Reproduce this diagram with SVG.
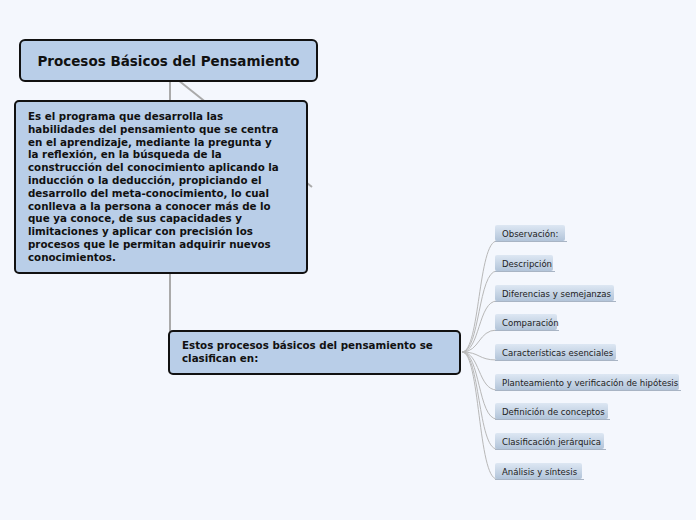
<svg xmlns="http://www.w3.org/2000/svg" width="696" height="520" viewBox="0 0 696 520">
<defs>
<style>
.n{fill:#b9cee8;stroke:#111;stroke-width:2}
.b{font-family:"DejaVu Sans",Verdana,sans-serif;font-weight:bold;fill:#111}
.l{font-family:"DejaVu Sans Condensed","DejaVu Sans",sans-serif;font-size:9.5px;fill:#222}
.lf{fill:url(#g)}
.ul{stroke:#a8b4c4;stroke-width:1.2}
.c{fill:none;stroke:#b8b8b8;stroke-width:1}
</style>
<linearGradient id="g" x1="0" y1="0" x2="0" y2="1"><stop offset="0" stop-color="#dde7f3"/><stop offset="1" stop-color="#b2c4d9"/></linearGradient>
</defs>
<rect width="696" height="520" fill="#f4f7fd"/>
<g id="connectors">
<line x1="170" y1="80" x2="170" y2="332" stroke="#aaa" stroke-width="2"/>
<line x1="178" y1="80" x2="312" y2="187" stroke="#aaa" stroke-width="2"/>
<path class="c" d="M462,352 C480,352 478,241 497,241"/>
<path class="c" d="M462,352 C480,352 478,271 497,271"/>
<path class="c" d="M462,352 C480,352 478,301 497,301"/>
<path class="c" d="M462,352 C480,352 478,330 497,330"/>
<path class="c" d="M462,352 C480,352 478,360 497,360"/>
<path class="c" d="M462,352 C480,352 478,390 497,390"/>
<path class="c" d="M462,352 C480,352 478,419 497,419"/>
<path class="c" d="M462,352 C480,352 478,449 497,449"/>
<path class="c" d="M462,352 C480,352 478,479 497,479"/>
</g>
<g id="root"><rect class="n" x="20" y="40" width="297" height="41" rx="5"/>
<text class="b" x="168.5" y="66" font-size="13.5" text-anchor="middle">Procesos Básicos del Pensamiento</text></g>
<g id="desc"><rect class="n" x="15" y="101" width="292" height="172" rx="4"/>
<text class="b" font-size="10.3"><tspan x="28" y="120">Es el programa que desarrolla las</tspan><tspan x="28" y="132.8">habilidades del pensamiento que se centra</tspan><tspan x="28" y="145.6">en el  aprendizaje, mediante la pregunta y</tspan><tspan x="28" y="158.4">la reflexión, en la búsqueda de la</tspan><tspan x="28" y="171.2">construcción del conocimiento aplicando la</tspan><tspan x="28" y="184">inducción o la deducción, propiciando el</tspan><tspan x="28" y="196.8">desarrollo del meta-conocimiento, lo cual</tspan><tspan x="28" y="209.6">conlleva a la persona a conocer más de lo</tspan><tspan x="28" y="222.4">que ya conoce, de sus capacidades y</tspan><tspan x="28" y="235.2">limitaciones y aplicar con precisión los</tspan><tspan x="28" y="248">procesos que le permitan adquirir nuevos</tspan><tspan x="28" y="260.8">conocimientos.</tspan></text></g>
<g id="clasif"><rect class="n" x="169" y="331" width="291" height="43" rx="4"/>
<text class="b" font-size="10.3"><tspan x="182" y="349">Estos procesos básicos del pensamiento se</tspan><tspan x="182" y="362">clasifican en:</tspan></text></g>
<g id="n1"><rect class="lf" x="495" y="225" width="70" height="16" rx="2"/><line class="ul" x1="495" y1="241.5" x2="567" y2="241.5"/><text class="l" x="502" y="237">Observación:</text></g>
<g id="n2"><rect class="lf" x="495" y="255" width="58" height="16" rx="2"/><line class="ul" x1="495" y1="271.5" x2="555" y2="271.5"/><text class="l" x="502" y="267">Descripción</text></g>
<g id="n3"><rect class="lf" x="495" y="285" width="119" height="16" rx="2"/><line class="ul" x1="495" y1="301.5" x2="616" y2="301.5"/><text class="l" x="502" y="297">Diferencias y semejanzas</text></g>
<g id="n4"><rect class="lf" x="495" y="314" width="62" height="16" rx="2"/><line class="ul" x1="495" y1="330.5" x2="559" y2="330.5"/><text class="l" x="502" y="326">Comparación</text></g>
<g id="n5"><rect class="lf" x="495" y="344" width="121" height="16" rx="2"/><line class="ul" x1="495" y1="360.5" x2="618" y2="360.5"/><text class="l" x="502" y="356">Características esenciales</text></g>
<g id="n6"><rect class="lf" x="495" y="374" width="184" height="16" rx="2"/><line class="ul" x1="495" y1="390.5" x2="681" y2="390.5"/><text class="l" x="502" y="386">Planteamiento y verificación de hipótesis</text></g>
<g id="n7"><rect class="lf" x="495" y="403" width="113" height="16" rx="2"/><line class="ul" x1="495" y1="419.5" x2="610" y2="419.5"/><text class="l" x="502" y="415">Definición de conceptos</text></g>
<g id="n8"><rect class="lf" x="495" y="433" width="109" height="16" rx="2"/><line class="ul" x1="495" y1="449.5" x2="606" y2="449.5"/><text class="l" x="502" y="445">Clasificación jerárquica</text></g>
<g id="n9"><rect class="lf" x="495" y="463" width="87" height="16" rx="2"/><line class="ul" x1="495" y1="479.5" x2="584" y2="479.5"/><text class="l" x="502" y="475">Análisis y síntesis</text></g>
</svg>
